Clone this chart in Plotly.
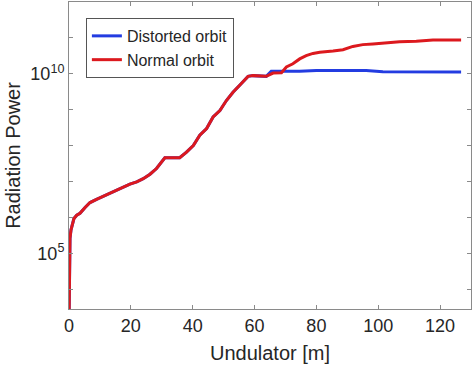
import plotly.graph_objects as go

# shared rising part (both orbits identical)
x_common = [0, 0.05, 0.1, 0.32, 0.65, 1.08, 1.6, 2.5, 3.55, 5.2, 6.8, 8.9, 11.1, 13.2, 15.4,
            17.5, 19.7, 21.9, 24.0, 26.2, 28.3, 31.0, 35.8, 38.0, 40.2, 42.3, 44.5,
            46.6, 48.8, 50.9, 53.1, 55.2, 57.9, 59.5, 63.8]
p_common = [1e3, 1e4, 4.3e4, 2.6e5, 4.5e5, 6.8e5, 9.3e5, 1.15e6, 1.3e6, 1.9e6, 2.6e6,
            3.2e6, 3.9e6, 4.7e6, 5.5e6, 6.8e6, 8.5e6, 9.8e6, 1.2e7, 1.6e7, 2.3e7,
            4.6e7, 4.6e7, 6.6e7, 1.0e8, 1.95e8, 3.0e8, 6.3e8, 9.5e8, 1.8e9, 3.1e9,
            4.8e9, 8.5e9, 8.9e9, 8.5e9]

# distorted orbit tail
x_dist = [65.4, 69.2, 74.6, 80.0, 96.1, 101.5, 117.7, 126.8]
p_dist = [1.17e10, 1.15e10, 1.17e10, 1.23e10, 1.23e10, 1.15e10, 1.15e10, 1.12e10]

# normal orbit tail
x_norm = [66.0, 68.7, 70.3, 72.4, 74.6, 76.7, 78.9, 81.1, 85.4, 88.6, 91.8, 95.0,
          98.3, 102.6, 106.9, 112.3, 117.7, 126.8]
p_norm = [1.05e10, 1.07e10, 1.55e10, 1.9e10, 2.6e10, 3.2e10, 3.7e10, 4.0e10, 4.3e10,
          4.7e10, 5.8e10, 6.5e10, 6.8e10, 7.4e10, 7.8e10, 8.1e10, 8.7e10, 8.7e10]

series_names = ["Distorted orbit", "Normal orbit"]
x_ticks = [0, 20, 40, 60, 80, 100, 120]
y_ticks = [1e5, 1e10]
y_ticktext = ["10<sup>5</sup>", "10<sup>10</sup>"]
y_minor = [1e4, 1e6, 1e7, 1e8, 1e9, 1e11, 1e12]

fig = go.Figure()
fig.add_trace(go.Scatter(x=x_common + x_dist, y=p_common + p_dist, mode="lines",
                         name=series_names[0],
                         line=dict(color="rgb(35,60,225)", width=3)))
fig.add_trace(go.Scatter(x=x_common + x_norm, y=p_common + p_norm, mode="lines",
                         name=series_names[1],
                         line=dict(color="rgb(220,25,30)", width=3)))

axis_common = dict(showgrid=False, zeroline=False, showline=True, linecolor="#8a8a8a",
                   linewidth=1, mirror="ticks", ticks="inside", ticklen=4,
                   tickcolor="#8a8a8a", automargin=False)

fig.update_layout(
    width=474, height=368,
    margin=dict(l=69, r=3, t=2, b=59),
    paper_bgcolor="white", plot_bgcolor="white",
    font=dict(family="Liberation Sans, Arial, sans-serif", color="#262626"),
    xaxis=dict(range=[0, 130], tickvals=x_ticks, tickfont=dict(size=18),
               title=dict(text="Undulator [m]", font=dict(size=20), standoff=11),
               **axis_common),
    yaxis=dict(type="log", range=[3.45, 12], tickvals=y_ticks, ticktext=y_ticktext,
               tickfont=dict(size=18),
               minor=dict(tickvals=y_minor, ticks="inside", ticklen=4,
                          tickcolor="#8a8a8a", showgrid=False),
               title=dict(text="Radiation Power", font=dict(size=20), standoff=4),
               **axis_common),
    legend=dict(x=0.042, y=0.948, xanchor="left", yanchor="top",
                bgcolor="white", bordercolor="#555555", borderwidth=1,
                font=dict(size=16), tracegroupgap=0),
    showlegend=True,
)

fig.write_html("out.html", config={"displayModeBar": False},
               post_script="document.body.style.margin='0';")
